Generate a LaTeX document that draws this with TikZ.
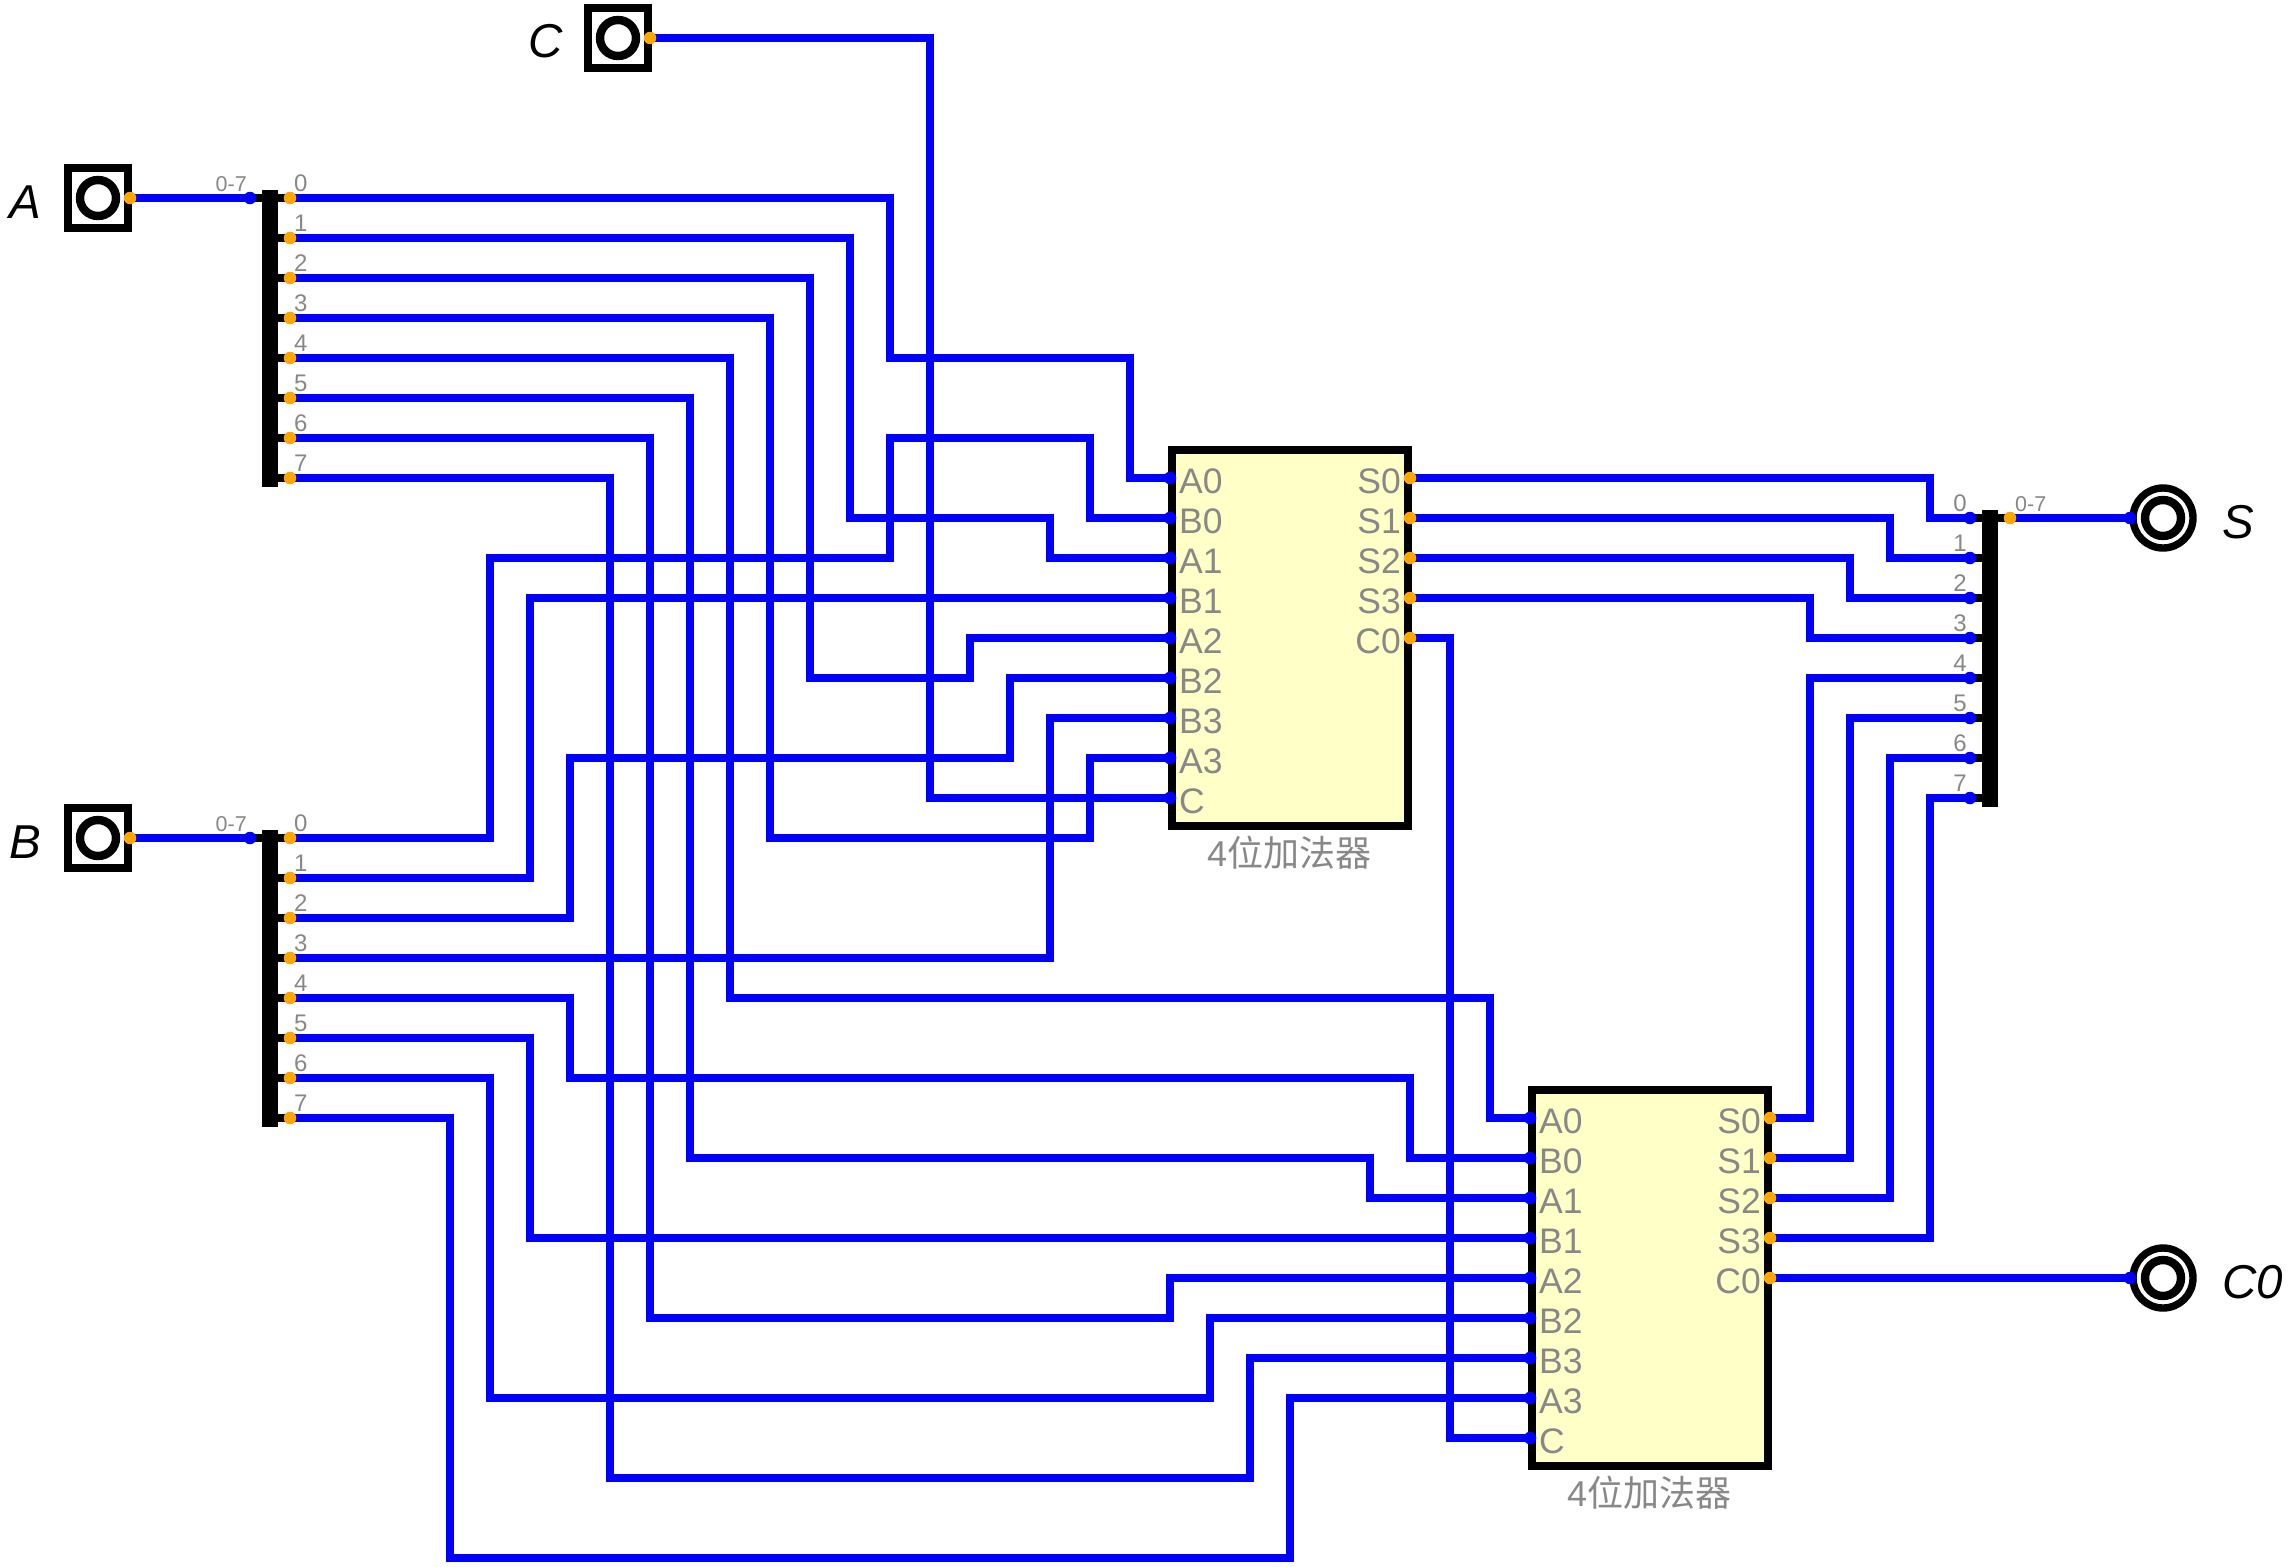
\documentclass[tikz,border=0pt]{standalone}
\usepackage{fontspec}
\setmainfont{Liberation Sans}
\newfontfamily\cjk{Noto Sans CJK SC}
\pgfdeclarelayer{front}
\pgfsetlayers{main,front}
\definecolor{wireblue}{HTML}{0000FF}
\definecolor{portorange}{HTML}{FFA500}
\definecolor{textgrey}{HTML}{888888}
\definecolor{chipfill}{HTML}{FFFFC8}
\newcommand{\fsz}[1]{\fontsize{#1}{#1}\selectfont}
\tikzset{
  wire/.style={draw=wireblue,line width=8.6pt,line join=miter},
  dotin/.style={circle,fill=wireblue,inner sep=0pt,minimum size=12.5pt},
  dotout/.style={circle,fill=portorange,inner sep=0pt,minimum size=12.5pt},
  stub/.style={draw=black,line width=8pt},
  busbar/.style={fill=black,inner sep=0pt,minimum width=16pt,minimum height=297pt},
  pinlabel/.style={text=textgrey,inner sep=0pt,font=\fsz{35.5}},
  caplabel/.style={text=textgrey,inner sep=0pt,font=\fsz{36}},
  tinylabel/.style={text=textgrey,inner sep=0pt,font=\fsz{24}},
  rangelabel/.style={text=textgrey,inner sep=0pt,font=\fsz{21.5}},
  namelabel/.style={text=black,inner sep=0pt,font=\fsz{47.5}\itshape},
  chipbox/.style={draw=black,line width=8.4pt,fill=chipfill,inner sep=0pt,minimum width=236pt,minimum height=376pt},
  inbox/.style={draw=black,line width=8.4pt,fill=white,inner sep=0pt,minimum size=60pt},
  ring/.style={circle,draw=black,line width=8.4pt,fill=white,inner sep=0pt,minimum size=36pt},
  outerring/.style={circle,draw=black,line width=7.4pt,fill=white,inner sep=0pt,minimum size=60pt}
}
% adder: prefix, centre x, centre y
\newcommand{\adderchip}[3]{%
  \node[chipbox] (#1) at (#2,#3) {};
  \node[caplabel,anchor=base] at (#2-1,#3+228) {4{\cjk 位加法器}};
  \foreach \nm/\k in {A0/0,B0/1,A1/2,B1/3,A2/4,B2/5,B3/6,A3/7,C/8}{
    \node[dotin] (#1-\nm) at (#2-120,{#3-160+40*\k}) {};
    \node[pinlabel,anchor=base west] at (#2-111,{#3-145+40*\k}) {\nm};
  }
  \foreach \nm/\k in {S0/0,S1/1,S2/2,S3/3,C0/4}{
    \node[dotout] (#1-\nm) at (#2+120,{#3-160+40*\k}) {};
    \node[pinlabel,anchor=base east] at (#2+111,{#3-145+40*\k}) {\nm};
  }
}
% input splitter: prefix, first wire y
\newcommand{\splitin}[2]{%
  \foreach \k in {0,...,7}{
    \draw[stub] (270,{#2+40*\k}) -- (290,{#2+40*\k});
    \node[dotout] (#1\k) at (290,{#2+40*\k}) {};
    \node[tinylabel,anchor=base west] at (294,{#2-7+40*\k}) {\k};
  }
  \draw[stub] (250,#2) -- (270,#2);
  \node[busbar,anchor=north] at (270,#2-8) {};
  \node[dotin] (#1in) at (250,#2) {};
  \node[rangelabel,anchor=base east] at (247,#2-7) {0-7};
}
\newcommand{\inputpin}[3]{%
  \node[inbox] (#1box) at (#2,#3) {};
  \node[ring] at (#2,#3) {};
  \node[dotout] (#1) at (#2+32,#3) {};
}
\newcommand{\outputpin}[2]{%
  \node[outerring] at (2163,#2) {};
  \node[ring] at (2163,#2) {};
  \node[dotin] (#1) at (2130,#2) {};
}
\begin{document}
\begin{tikzpicture}[x=1pt,y=-1pt]
\path[use as bounding box,fill=white] (0,0) rectangle (2288,1566);
\begin{pgfonlayer}{front}
  \inputpin{inA}{98}{198}
  \inputpin{inB}{98}{838}
  \inputpin{inC}{618}{38}
  \outputpin{outS}{518}
  \outputpin{outC}{1278}
  \splitin{sa}{198}
  \splitin{sb}{838}
  % output splitter
  \foreach \k in {0,...,7}{
    \draw[stub] (1970,{518+40*\k}) -- (1990,{518+40*\k});
    \node[dotin] (so\k) at (1970,{518+40*\k}) {};
    \node[tinylabel,anchor=base east] at (1967,{511+40*\k}) {\k};
  }
  \draw[stub] (1990,518) -- (2010,518);
  \node[busbar,anchor=north] at (1990,510) {};
  \node[dotout] (soout) at (2010,518) {};
  \node[rangelabel,anchor=base west] at (2015,511) {0-7};
  \adderchip{u}{1290}{638}
  \adderchip{v}{1650}{1278}
  \node[namelabel,anchor=base west] at (9,218) {A};
  \node[namelabel,anchor=base west] at (9,858) {B};
  \node[namelabel,anchor=base west] at (528,57) {C};
  \node[namelabel,anchor=base west] at (2222,538) {S};
  \node[namelabel,anchor=base west] at (2222,1298) {C0};
\end{pgfonlayer}
% inputs
\draw[wire] (inA.center) -- (sain.center);
\draw[wire] (inB.center) -- (sbin.center);
\draw[wire] (inC.center) -- (930,38) -- (930,798) -- (u-C.center);
% A bus
\draw[wire] (sa0.center) -- (890,198) -- (890,358) -- (1130,358) -- (1130,478) -- (u-A0.center);
\draw[wire] (sa1.center) -- (850,238) -- (850,518) -- (1050,518) -- (1050,558) -- (u-A1.center);
\draw[wire] (sa2.center) -- (810,278) -- (810,678) -- (970,678) -- (970,638) -- (u-A2.center);
\draw[wire] (sa3.center) -- (770,318) -- (770,838) -- (1090,838) -- (1090,758) -- (u-A3.center);
\draw[wire] (sa4.center) -- (730,358) -- (730,998) -- (1490,998) -- (1490,1118) -- (v-A0.center);
\draw[wire] (sa5.center) -- (690,398) -- (690,1158) -- (1370,1158) -- (1370,1198) -- (v-A1.center);
\draw[wire] (sa6.center) -- (650,438) -- (650,1318) -- (1170,1318) -- (1170,1278) -- (v-A2.center);
\draw[wire] (sa7.center) -- (610,478) -- (610,1478) -- (1250,1478) -- (1250,1358) -- (v-B3.center);
% B bus
\draw[wire] (sb0.center) -- (490,838) -- (490,558) -- (890,558) -- (890,438) -- (1090,438) -- (1090,518) -- (u-B0.center);
\draw[wire] (sb1.center) -- (530,878) -- (530,598) -- (u-B1.center);
\draw[wire] (sb2.center) -- (570,918) -- (570,758) -- (1010,758) -- (1010,678) -- (u-B2.center);
\draw[wire] (sb3.center) -- (1050,958) -- (1050,718) -- (u-B3.center);
\draw[wire] (sb4.center) -- (570,998) -- (570,1078) -- (1410,1078) -- (1410,1158) -- (v-B0.center);
\draw[wire] (sb5.center) -- (530,1038) -- (530,1238) -- (v-B1.center);
\draw[wire] (sb6.center) -- (490,1078) -- (490,1398) -- (1210,1398) -- (1210,1318) -- (v-B2.center);
\draw[wire] (sb7.center) -- (450,1118) -- (450,1558) -- (1290,1558) -- (1290,1398) -- (v-A3.center);
% adder outputs
\draw[wire] (u-S0.center) -- (1930,478) -- (1930,518) -- (so0.center);
\draw[wire] (u-S1.center) -- (1890,518) -- (1890,558) -- (so1.center);
\draw[wire] (u-S2.center) -- (1850,558) -- (1850,598) -- (so2.center);
\draw[wire] (u-S3.center) -- (1810,598) -- (1810,638) -- (so3.center);
\draw[wire] (u-C0.center) -- (1450,638) -- (1450,1438) -- (v-C.center);
\draw[wire] (v-S0.center) -- (1810,1118) -- (1810,678) -- (so4.center);
\draw[wire] (v-S1.center) -- (1850,1158) -- (1850,718) -- (so5.center);
\draw[wire] (v-S2.center) -- (1890,1198) -- (1890,758) -- (so6.center);
\draw[wire] (v-S3.center) -- (1930,1238) -- (1930,798) -- (so7.center);
\draw[wire] (v-C0.center) -- (outC.center);
\draw[wire] (soout.center) -- (outS.center);
\end{tikzpicture}
\end{document}
